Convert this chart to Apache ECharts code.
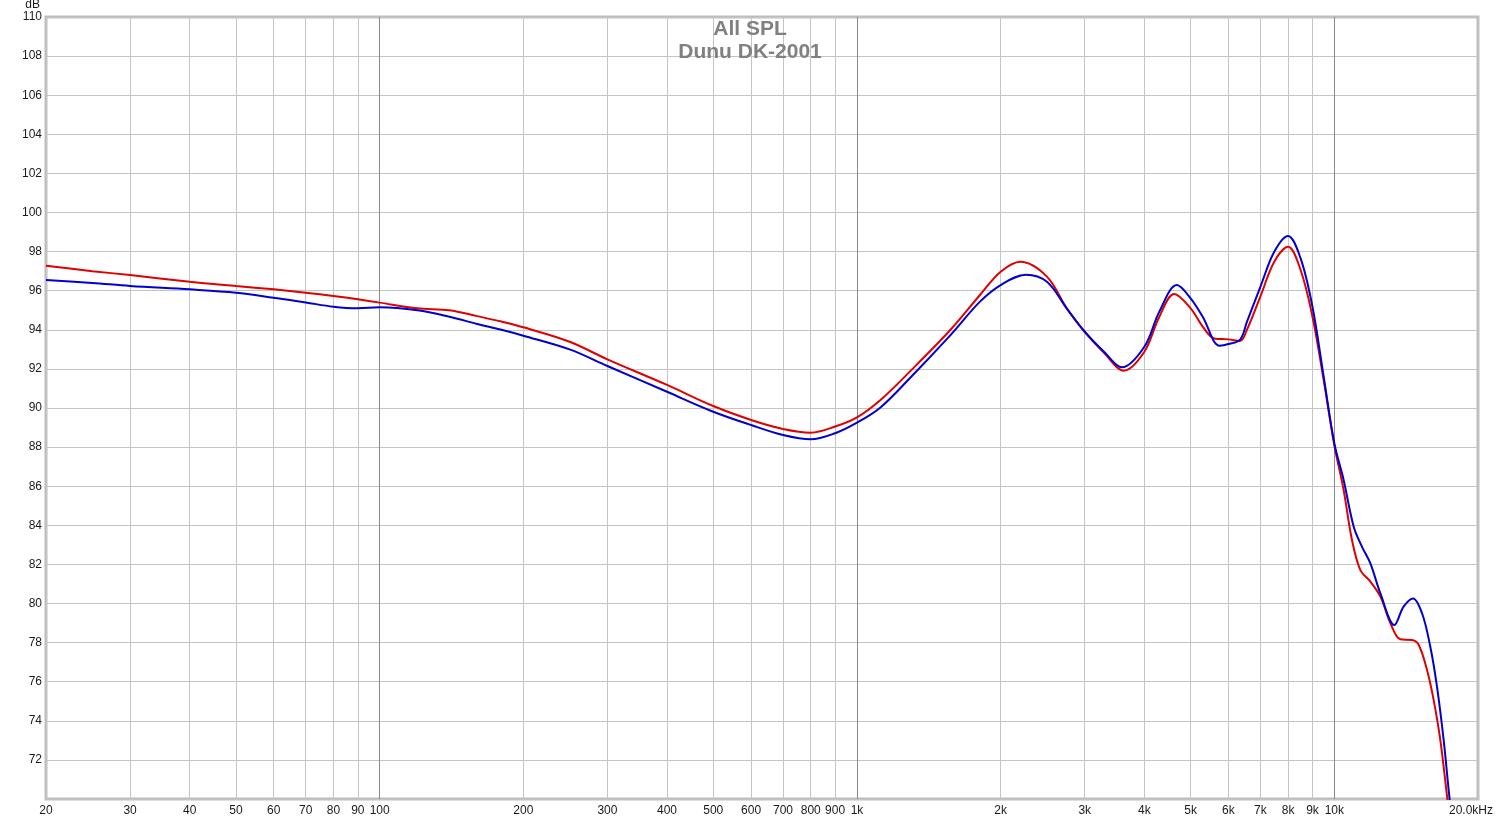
<!DOCTYPE html>
<html>
<head>
<meta charset="utf-8">
<script src="https://cdn.jsdelivr.net/npm/echarts@6/dist/echarts.min.js"></script>
<style>
html,body{margin:0;padding:0;background:#fff;}
#chart{width:1500px;height:819px;}
</style>
</head>
<body>
<div id="chart"></div>
<script>
// Frequencies (Hz) and SPL (dB)
const redFreq = [20, 25, 30, 40, 50, 60, 70, 80, 90, 100, 120, 140, 160, 180, 200, 250, 300, 400, 500, 600, 700, 800, 900, 1000, 1120, 1290, 1570, 1810, 2000, 2200, 2500, 2750, 3000, 3300, 3620, 4000, 4300, 4620, 5000, 5300, 5600, 6000, 6350, 6560, 7000, 7485, 8000, 8500, 9000, 9500, 10000, 10460, 10890, 11340, 11900, 12490, 13110, 13750, 14550, 15030, 15640, 16150, 16680, 17230, 17500];
const redSpl  = [97.28, 97.0, 96.8, 96.46, 96.24, 96.07, 95.9, 95.73, 95.56, 95.39, 95.1, 95.0, 94.7, 94.42, 94.13, 93.39, 92.49, 91.18, 90.1, 89.39, 88.93, 88.74, 89.05, 89.52, 90.41, 91.86, 94.0, 95.78, 96.97, 97.48, 96.72, 95.1, 93.9, 92.8, 91.91, 92.88, 94.67, 95.83, 95.1, 94.16, 93.56, 93.51, 93.43, 94.0, 95.7, 97.48, 98.25, 97.06, 94.67, 91.43, 88.1, 85.8, 83.25, 81.71, 81.12, 80.35, 78.99, 78.17, 78.13, 77.88, 76.6, 75.06, 73.0, 70.12, 68.8];

const blueFreq = [20, 25, 30, 40, 50, 60, 70, 80, 90, 100, 120, 140, 160, 180, 200, 250, 300, 400, 500, 600, 700, 800, 900, 1000, 1120, 1290, 1570, 1810, 2000, 2260, 2500, 2750, 3000, 3300, 3590, 4000, 4300, 4680, 5000, 5300, 5750, 6000, 6350, 6560, 7000, 7485, 8000, 8500, 9000, 9500, 10000, 10460, 10980, 11430, 11900, 12490, 13360, 13970, 14620, 15270, 15890, 16410, 16950, 17420, 17700];
const blueSpl  = [96.55, 96.4, 96.24, 96.07, 95.9, 95.64, 95.4, 95.18, 95.1, 95.15, 95.0, 94.67, 94.3, 94.0, 93.7, 93.0, 92.15, 90.83, 89.81, 89.13, 88.62, 88.4, 88.71, 89.25, 90.03, 91.52, 93.73, 95.44, 96.29, 96.82, 96.46, 95.1, 93.9, 92.85, 92.08, 93.13, 94.93, 96.29, 95.61, 94.67, 93.19, 93.27, 93.5, 94.4, 96.2, 97.99, 98.8, 97.65, 95.18, 91.6, 88.2, 86.32, 83.93, 82.9, 82.05, 80.52, 78.9, 79.84, 80.26, 79.5, 77.79, 75.75, 73.0, 70.12, 68.8];

// Axis ticks
const xTickFreqs  = [20, 30, 40, 50, 60, 70, 80, 90, 100, 200, 300, 400, 500, 600, 700, 800, 900, 1000, 2000, 3000, 4000, 5000, 6000, 7000, 8000, 9000, 10000, 20000];
const xTickLabels = ['20', '30', '40', '50', '60', '70', '80', '90', '100', '200', '300', '400', '500', '600', '700', '800', '900', '1k', '2k', '3k', '4k', '5k', '6k', '7k', '8k', '9k', '10k', '20.0kHz'];
const decadeFreqs = [100, 1000, 10000];
const yMin = 70, yMax = 110, yStep = 2;

const titleLines = ['All SPL', 'Dunu DK-2001'];

const lg = Math.log10;
const redData = redFreq.map((f, i) => [lg(f), redSpl[i]]);
const blueData = blueFreq.map((f, i) => [lg(f), blueSpl[i]]);
const xTickVals = xTickFreqs.map(lg);

function labelFor(v) {
  let best = 0, bd = Infinity;
  xTickVals.forEach((t, i) => { const d = Math.abs(t - v); if (d < bd) { bd = d; best = i; } });
  if (bd >= 1e-6) return '';
  return best === xTickLabels.length - 1 ? '{end|' + xTickLabels[best] + '}' : xTickLabels[best];
}

const chart = echarts.init(document.getElementById('chart'), null, {renderer: 'canvas'});
chart.setOption({
  backgroundColor: '#ffffff',
  animation: false,
  title: {
    text: titleLines.join('\n'),
    left: 'center',
    top: 13,
    textStyle: {
      fontFamily: 'Liberation Sans, Arial, sans-serif',
      fontSize: 21,
      fontWeight: 'bold',
      color: '#808080',
      lineHeight: 23
    }
  },
  grid: {
    left: 46, right: 22, top: 17, bottom: 20,
    outerBoundsMode: 'none',
    containLabel: false,
    show: true,
    borderColor: '#bdbdbd',
    borderWidth: 3,
    backgroundColor: 'transparent'
  },
  xAxis: [
    {
      type: 'value',
      min: lg(20), max: lg(20000),
      axisLine: {show: false},
      axisTick: {show: false, customValues: xTickVals},
      axisLabel: {
        show: true,
        customValues: xTickVals,
        formatter: v => labelFor(v),
        margin: 6,
        color: '#1a1a1a',
        fontSize: 12,
        fontFamily: 'Liberation Sans, Arial, sans-serif',
        showMinLabel: true,
        showMaxLabel: true,
        hideOverlap: false,
        rich: {
          end: {
            color: '#1a1a1a', fontSize: 12,
            fontFamily: 'Liberation Sans, Arial, sans-serif',
            padding: [0, 14, 0, 0]
          }
        }
      },
      splitLine: {show: true, lineStyle: {color: '#c4c4c4', width: 1}}
    },
    {
      type: 'value',
      position: 'bottom',
      min: lg(20), max: lg(20000),
      axisLine: {show: false},
      axisTick: {show: false, customValues: decadeFreqs.map(lg)},
      axisLabel: {show: false, customValues: decadeFreqs.map(lg)},
      splitLine: {show: true, lineStyle: {color: '#8a8a8a', width: 1}}
    }
  ],
  yAxis: {
    type: 'value',
    min: yMin, max: yMax, interval: yStep,
    name: 'dB',
    nameLocation: 'end',
    nameGap: 2,
    nameTextStyle: {
      color: '#1a1a1a', fontSize: 12,
      fontFamily: 'Liberation Sans, Arial, sans-serif',
      align: 'right', padding: [0, 6, 0, 0]
    },
    axisLine: {show: false},
    axisTick: {show: false},
    axisLabel: {
      margin: 4,
      color: '#1a1a1a',
      fontSize: 12,
      fontFamily: 'Liberation Sans, Arial, sans-serif',
      formatter: v => (v === yMin ? '' : String(v))
    },
    splitLine: {show: true, lineStyle: {color: '#c4c4c4', width: 1}}
  },
  series: [
    {
      type: 'line', name: 'L', data: redData, xAxisIndex: 0,
      showSymbol: false, smooth: 0.35, clip: true,
      lineStyle: {color: '#e00000', width: 2},
      z: 3
    },
    {
      type: 'line', name: 'R', data: blueData, xAxisIndex: 0,
      showSymbol: false, smooth: 0.35, clip: true,
      lineStyle: {color: '#0000d0', width: 2},
      z: 4
    }
  ]
});
</script>
</body>
</html>
